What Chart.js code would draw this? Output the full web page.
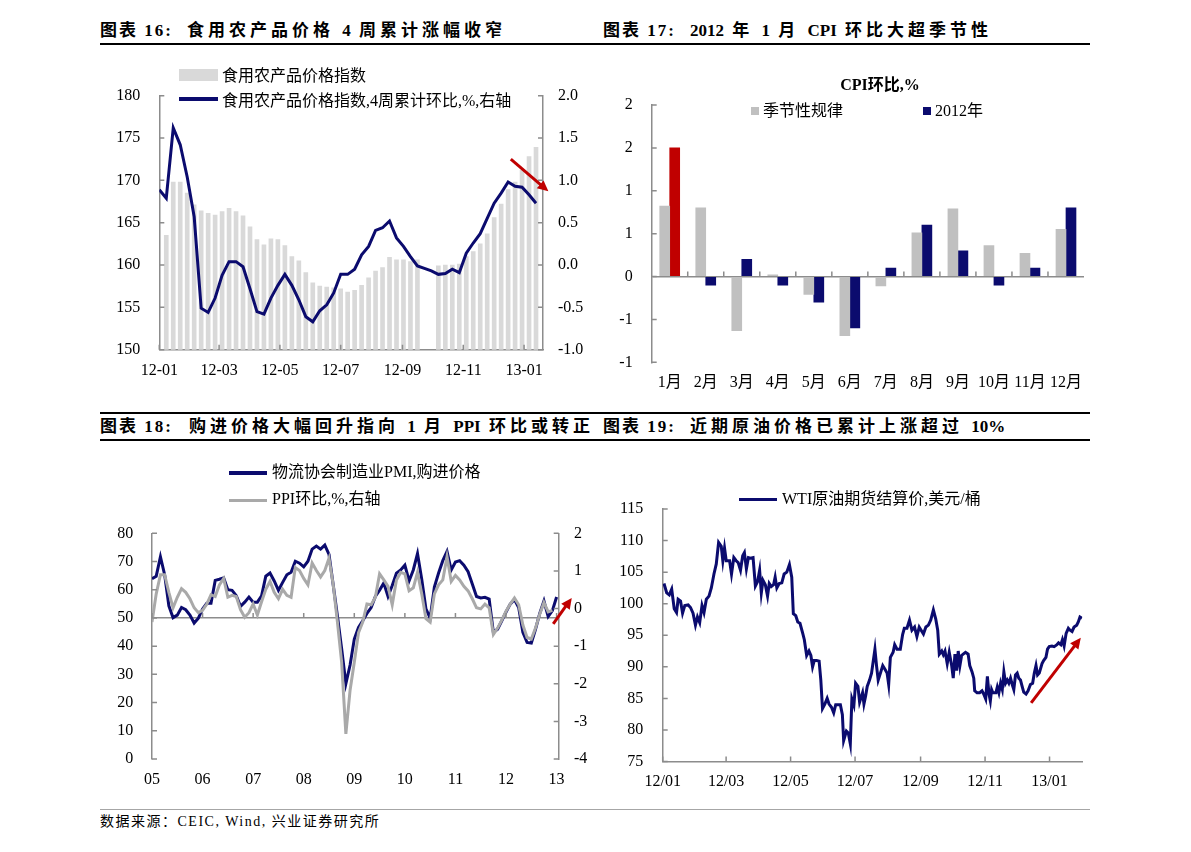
<!DOCTYPE html>
<html lang="zh-CN">
<head>
<meta charset="utf-8">
<title>图表 16-19</title>
<script src="https://cdn.jsdelivr.net/npm/chart.js@4.4.1/dist/chart.umd.min.js"></script>
<style>
  html, body { margin: 0; padding: 0; background: #fff; }
  body { position: relative; width: 1191px; height: 852px; overflow: hidden;
         font-family: "Liberation Serif", "Noto Sans CJK SC", serif; color: #000; }
  .head { position: absolute; font-size: 17px; font-weight: bold; line-height: 20px; white-space: pre; letter-spacing: 2px; }
  .head.t { letter-spacing: 4px; }
  .head .n { letter-spacing: 0; word-spacing: 4px; }
  .rule { position: absolute; left: 100px; width: 990px; height: 2px; background: #000; }
  .wrap { position: absolute; }
  .lg { position: absolute; font-size: 16px; line-height: 20px; white-space: nowrap; }
  .sw { position: absolute; }
</style>
</head>
<body>

<!-- headers -->
<div class="head" style="left:100px;top:20.5px">图表 16:</div>
<div class="head t" style="left:187px;top:20.5px">食用农产品价格<span class="n"> 4 </span>周累计涨幅收窄</div>
<div class="head" style="left:603px;top:20.5px">图表 17:</div>
<div class="head t" style="left:690px;top:20.5px"><span class="n">2012 </span>年<span class="n"> 1 </span>月<span class="n"> CPI </span>环比大超季节性</div>
<div class="rule" style="top:42.7px"></div>

<div class="rule" style="top:412px"></div>
<div class="head" style="left:100px;top:416.7px">图表 18:</div>
<div class="head t" style="left:189px;top:416.7px">购进价格大幅回升指向<span class="n"> 1 </span>月<span class="n"> PPI </span>环比或转正</div>
<div class="head" style="left:603px;top:416.7px">图表 19:</div>
<div class="head t" style="left:690px;top:416.7px">近期原油价格已累计上涨超过<span class="n"> 10%</span></div>
<div class="rule" style="top:439.3px"></div>

<!-- charts -->
<div class="wrap" style="left:90px;top:55px;width:510px;height:330px"><canvas id="c16"></canvas></div>
<div class="wrap" style="left:600px;top:55px;width:500px;height:340px"><canvas id="c17"></canvas></div>
<div class="wrap" style="left:90px;top:505px;width:500px;height:295px"><canvas id="c18"></canvas></div>
<div class="wrap" style="left:600px;top:480px;width:500px;height:320px"><canvas id="c19"></canvas></div>

<!-- legends -->
<div class="sw" style="left:179px;top:69px;width:39px;height:12px;background:#d9d9d9"></div>
<div class="lg" style="left:222px;top:66px">食用农产品价格指数</div>
<div class="sw" style="left:179px;top:97px;width:39px;height:3.5px;background:#0b0b6e"></div>
<div class="lg" style="left:222px;top:90.5px">食用农产品价格指数,4周累计环比,%,右轴</div>

<div class="lg" style="left:780px;top:75px;width:200px;text-align:center;font-weight:bold">CPI环比,%</div>
<div class="sw" style="left:751px;top:107px;width:8px;height:8px;background:#c0c0c0"></div>
<div class="lg" style="left:763px;top:101px">季节性规律</div>
<div class="sw" style="left:923px;top:107px;width:8px;height:8px;background:#0b0b6e"></div>
<div class="lg" style="left:935px;top:101px">2012年</div>

<div class="sw" style="left:229px;top:471px;width:38px;height:3.5px;background:#0b0b6e"></div>
<div class="lg" style="left:272px;top:462px">物流协会制造业PMI,购进价格</div>
<div class="sw" style="left:229px;top:498.5px;width:38px;height:3.5px;background:#a9a9a9"></div>
<div class="lg" style="left:272px;top:489px">PPI环比,%,右轴</div>

<div class="sw" style="left:739px;top:497.5px;width:38px;height:3.5px;background:#0b0b6e"></div>
<div class="lg" style="left:782px;top:489px">WTI原油期货结算价,美元/桶</div>

<!-- footer -->
<div class="sw" style="left:100px;top:808.5px;width:990px;height:1.5px;background:#a6a6a6"></div>
<div class="lg" style="left:100px;top:812px;font-size:14px;letter-spacing:1.5px">数据来源：CEIC, Wind, 兴业证券研究所</div>

<script>
// ---------- 图表16: weekly, x = days since 2012-01-01 ----------
const foodIndex = [null, 163.5, 169.8, 169.8, 168.5, 167.1, 166.4, 166.1, 165.9, 166.3,
  166.7, 166.3, 165.8, 164.5, 163.0, 162.4, 163.1, 163.0, 162.3, 161.0,
  160.5, 159.1, 157.9, 157.5, 157.4, 157.3, 157.2, 156.8, 157.0, 157.6,
  158.5, 159.3, 159.7, 160.9, 160.6, 160.6, 160.4, 160.6, null, null,
  159.9, 160.0, 160.0, 160.1, 161.0, 161.6, 162.5, 163.7, 165.6, 167.2,
  168.9, 169.8, 171.2, 172.8, 173.9];
const food4wChg = [0.89, 0.79, 1.62, 1.42, 1.04, 0.57, -0.51, -0.56, -0.39, -0.12,
  0.04, 0.04, -0.02, -0.28, -0.55, -0.58, -0.39, -0.24, -0.11, -0.24,
  -0.41, -0.61, -0.67, -0.54, -0.47, -0.33, -0.11, -0.11, -0.05, 0.12,
  0.22, 0.41, 0.44, 0.52, 0.32, 0.22, 0.10, -0.01, -0.04, -0.07,
  -0.11, -0.10, -0.05, -0.09, 0.14, 0.26, 0.37, 0.55, 0.73, 0.85,
  0.98, 0.93, 0.92, 0.83, 0.73];
const tickDays16 = [0, 60, 121, 182, 244, 305, 366];
const tickLbl16 = ['12-01', '12-03', '12-05', '12-07', '12-09', '12-11', '13-01'];
const arrow16 = [[352.7, 1.25], [390.4, 0.87]];

// ---------- 图表17 ----------
const months = ['1月', '2月', '3月', '4月', '5月', '6月', '7月', '8月', '9月', '10月', '11月', '12月'];
const seasonal = [0.82, 0.80, -0.63, 0.02, -0.21, -0.69, -0.11, 0.51, 0.79, 0.36, 0.27, 0.55];
const cpi2012 = [1.5, -0.1, 0.2, -0.1, -0.3, -0.6, 0.1, 0.6, 0.3, -0.1, 0.1, 0.8];

// ---------- 图表18: monthly from 2005-01 ----------
const pmiBuyPrice = [63.9, 64.8, 71.7, 65.3, 54.3, 50.1, 51.0, 53.7, 52.9, 51.0,
  48.2, 49.9, 53.2, 55.2, 55.2, 63.3, 63.7, 64.2, 60.0, 59.8,
  57.9, 54.1, 55.6, 57.4, 55.6, 55.6, 57.8, 64.8, 65.9, 63.1,
  59.8, 62.6, 65.3, 66.2, 70.1, 69.4, 68.1, 70.1, 74.4, 75.5,
  74.4, 75.8, 72.5, 61.7, 50.7, 39.1, 26.7, 33.3, 42.5, 46.6,
  49.0, 51.6, 53.7, 57.6, 59.8, 62.4, 57.6, 61.5, 65.9, 67.0,
  68.7, 63.1, 67.0, 72.8, 63.7, 53.2, 49.9, 60.9, 65.9, 70.3,
  73.6, 67.0, 69.8, 70.3, 68.7, 66.4, 62.0, 57.6, 57.1, 57.3,
  56.7, 44.9, 46.0, 49.0, 52.1, 54.9, 56.5, 53.7, 44.9, 41.3,
  41.1, 46.0, 51.6, 56.0, 50.5, 52.6, 57.4];
const ppiMoM = [-0.36, 0.39, 0.90, 0.90, 0.43, 0.02, 0.30, 0.53, 0.43, 0.26,
  0.02, -0.11, -0.05, 0.12, 0.37, 0.32, 0.63, 0.80, 0.30, 0.35,
  0.32, -0.03, -0.23, -0.11, 0.12, -0.17, 0.18, 0.51, 0.72, 0.43,
  0.26, 0.51, 0.35, 0.30, 1.09, 1.01, 0.80, 0.63, 1.21, 1.01,
  0.84, 1.01, 1.34, 0.63, -0.36, -1.43, -3.33, -2.17, -1.43, -0.64,
  -0.36, 0.12, 0.10, 0.30, 0.92, 0.76, 0.59, 0.10, 0.76, 0.96,
  0.92, 0.47, 0.55, 0.96, 0.39, -0.27, -0.36, 0.39, 0.63, 0.76,
  1.38, 0.72, 0.88, 0.76, 0.59, 0.47, 0.26, 0.02, -0.01, 0.12,
  0.02, -0.69, -0.52, -0.31, -0.07, 0.12, 0.28, 0.10, -0.44, -0.77,
  -0.81, -0.52, -0.15, 0.16, -0.09, -0.05];
const yearTicks = [0, 12, 24, 36, 48, 60, 72, 84, 96];
const yearLbl = ['05', '06', '07', '08', '09', '10', '11', '12', '13'];
const arrow18 = [[95.2, 47.9], [99.6, 57.1]];

// ---------- 图表19: daily, x = days since 2012-01-01 ----------
const wtiDay = [1.2, 3.8, 6.2, 8.5, 10.9, 13.1, 14.6, 16.9, 18.8, 20.9, 24.1, 26.3, 28.7, 31.0,
  32.9, 35.0, 37.2, 39.1, 41.3, 43.8, 46.0, 48.5, 50.7, 52.9, 55.4, 56.9, 58.5, 60.1,
  63.3, 65.1, 67.3, 69.5, 71.4, 73.6, 75.7, 77.3, 79.2, 81.1,
  83.0, 85.5, 87.7, 89.8, 91.7, 93.3, 94.9, 97.1, 99.2, 100.8,
  102.7, 104.9, 106.4, 108.0, 110.2, 112.7, 114.9, 117.4, 119.9, 122.1,
  123.6, 125.9, 127.8, 129.9, 132.5, 134.0, 136.2, 138.4, 140.2, 141.8,
  143.4, 145.6, 148.0, 149.6, 151.2, 153.4, 155.6, 157.4, 159.7, 161.8,
  163.7, 165.9, 168.1, 170.0, 171.2, 173.8, 175.6, 177.5, 179.0, 180.9,
  182.5, 184.7, 186.3,
  189.1, 190.4, 192.0, 193.5, 195.7, 197.6, 200.8, 202.3, 203.9, 206.0,
  208.2, 210.7, 212.3, 213.8, 215.4, 218.0, 219.5, 221.7, 224.8, 227.0,
  228.6, 231.1, 233.5, 235.8, 238.3, 240.5, 242.7, 244.5, 246.7, 249.0,
  251.4, 253.6, 256.1, 258.3, 260.2, 261.7, 264.0, 265.5, 267.1, 269.2,
  271.1, 273.4, 274.9, 276.5, 278.1, 279.6, 281.2, 282.8, 284.3, 286.5,
  289.0, 290.5, 292.7, 294.3, 295.2, 297.4, 299.9, 302.1, 303.7, 305.6,
  307.2, 308.7, 310.0, 311.2, 312.4,
  315.3, 316.6, 318.1, 319.7, 321.3, 322.8, 324.4, 326.0, 327.5, 329.1,
  330.7, 332.2, 333.8, 335.4, 336.9, 338.5, 340.4, 341.6, 343.8, 345.7,
  347.9, 350.0, 351.6, 353.2, 354.7, 356.3, 358.9, 360.4, 362.6, 364.1,
  365.7, 368.3, 370.4, 373.0, 374.5, 376.7, 378.2, 379.8, 381.7, 383.8,
  385.4, 387.3, 389.2, 391.7, 393.2, 394.8, 396.7];
const wtiPrice = [103.2, 101.7, 101.4, 102.3, 99.2, 98.6, 100.7, 100.4, 98.5, 99.7, 99.8, 99.4, 98.5, 96.6,
  97.9, 97.0, 99.7, 98.6, 100.7, 101.2, 102.5, 104.7, 106.3, 109.7, 109.1, 106.8, 108.8, 106.8,
  106.8, 104.7, 107.3, 106.8, 106.5, 105.3, 107.6, 108.1, 105.5, 107.3,
  107.2, 107.3, 102.8, 103.5, 105.3, 101.7, 103.7, 103.0, 101.2, 103.2,
  102.7, 103.0, 104.2, 102.5, 103.2, 103.3, 104.7, 105.0, 106.2, 104.2,
  98.4, 98.1, 97.1, 96.9, 95.3, 94.3, 91.8, 92.5, 91.8, 90.0,
  91.0, 91.0, 90.9, 87.9, 83.4, 84.1, 85.0, 84.1, 83.6, 82.7,
  84.0, 84.0, 84.0, 82.4, 78.3, 79.8, 79.5, 77.8, 84.9, 83.9,
  87.4, 86.9, 84.4,
  85.9, 84.1, 85.4, 86.9, 87.9, 89.0, 92.8, 90.2, 87.9, 89.0,
  90.2, 89.5, 89.0, 87.2, 91.5, 92.3, 93.5, 92.8, 92.8, 95.1,
  96.1, 96.1, 97.4, 95.8, 96.3, 94.8, 96.3, 95.8, 95.2, 96.3,
  96.6, 97.4, 99.0, 97.6, 95.8, 92.0, 92.5, 91.9, 92.5, 90.5,
  92.3, 90.2, 88.2, 92.0, 89.4, 92.5, 90.2, 91.8, 92.0, 92.3,
  92.0, 90.2, 89.2, 88.2, 86.2, 85.9, 85.9, 86.2, 85.7, 84.9,
  88.5, 85.7, 84.6, 86.4, 85.9,
  85.9, 86.8, 85.9, 87.4, 86.4, 89.2, 87.4, 87.9, 87.4, 88.2,
  87.2, 86.4, 88.7, 89.0, 88.2, 87.9, 86.7, 86.0, 85.7, 86.2,
  87.2, 87.4, 89.0, 90.2, 88.7, 89.0, 90.5, 91.0, 91.5, 92.8,
  93.2, 93.3, 93.2, 93.5, 93.8, 93.5, 94.3, 93.3, 95.3, 96.1,
  95.8, 95.6, 96.3, 96.6, 97.1, 97.9, 97.7];
const tickDays19 = [0, 60, 121, 182, 244, 305, 366];
const tickLbl19 = ['12/01', '12/03', '12/05', '12/07', '12/09', '12/11', '13/01'];
const arrow19 = [[348.6, 84.3], [395.6, 94.6]];

const NAVY = '#0b0b6e';
const GREY_LINE = '#a9a9a9';
const RED = '#c00000';
const AXIS = '#8c8c8c';
const CLEAR = 'rgba(0,0,0,0)';

Chart.defaults.font.family = '"Liberation Serif", "Noto Sans CJK SC", serif';
Chart.defaults.font.size = 16;
Chart.defaults.color = '#000';
Chart.defaults.animation = false;
Chart.defaults.responsive = true;
Chart.defaults.maintainAspectRatio = false;
Chart.defaults.plugins.legend.display = false;
Chart.defaults.plugins.tooltip.enabled = false;

const border = { display: true, color: AXIS, width: 1.5 };
const noGrid = { display: false, drawTicks: false };

// short tick marks pointing into the plot + the red trend arrow
function decor(marks, arrow) {
  return {
    id: 'decor',
    afterDatasetsDraw(chart) {
      const ctx = chart.ctx, area = chart.chartArea;
      ctx.save();
      ctx.strokeStyle = AXIS;
      ctx.lineWidth = 1.5;
      marks.forEach(m => {
        const s = chart.scales[m.scale];
        const vals = m.values || s.ticks.map(t => t.value);
        ctx.beginPath();
        vals.forEach(v => {
          const p = s.getPixelForValue(v);
          if (s.isHorizontal()) {
            const y0 = m.on ? chart.scales[m.on].getPixelForValue(m.at) : area.bottom;
            ctx.moveTo(p, y0); ctx.lineTo(p, y0 - 5);
          } else if (s.position === 'left') {
            ctx.moveTo(area.left, p); ctx.lineTo(area.left + 5, p);
          } else {
            ctx.moveTo(area.right, p); ctx.lineTo(area.right - 5, p);
          }
        });
        ctx.stroke();
      });
      if (arrow) {
        const xs = chart.scales[arrow.x], ys = chart.scales[arrow.y];
        const x0 = xs.getPixelForValue(arrow.pts[0][0]), y0 = ys.getPixelForValue(arrow.pts[0][1]);
        const x1 = xs.getPixelForValue(arrow.pts[1][0]), y1 = ys.getPixelForValue(arrow.pts[1][1]);
        const ang = Math.atan2(y1 - y0, x1 - x0), head = 12;
        ctx.strokeStyle = RED; ctx.fillStyle = RED; ctx.lineWidth = 3;
        ctx.beginPath();
        ctx.moveTo(x0, y0);
        ctx.lineTo(x1 - head * 0.8 * Math.cos(ang), y1 - head * 0.8 * Math.sin(ang));
        ctx.stroke();
        ctx.beginPath();
        ctx.moveTo(x1, y1);
        ctx.lineTo(x1 - head * Math.cos(ang - 0.45), y1 - head * Math.sin(ang - 0.45));
        ctx.lineTo(x1 - head * Math.cos(ang + 0.45), y1 - head * Math.sin(ang + 0.45));
        ctx.closePath();
        ctx.fill();
      }
      ctx.restore();
    }
  };
}

// 图表16
new Chart(document.getElementById('c16'), {
  type: 'bar',
  data: {
    datasets: [
      { type: 'line', label: '食用农产品价格指数,4周累计环比,%,右轴', yAxisID: 'yR', order: 0,
        data: food4wChg.map((v, i) => ({ x: i * 7, y: v })),
        borderColor: NAVY, borderWidth: 3, pointRadius: 0, tension: 0 },
      { type: 'bar', label: '食用农产品价格指数', yAxisID: 'yL', order: 1,
        data: foodIndex.map((v, i) => ({ x: i * 7, y: v })),
        backgroundColor: '#d9d9d9', barThickness: 4 }
    ]
  },
  options: {
    layout: { padding: { top: 40.7, left: 0, right: 0, bottom: 0 } },
    scales: {
      x: { type: 'linear', min: 0, max: 385, offset: false, grid: noGrid, border: border,
           afterBuildTicks: s => { s.ticks = tickDays16.map(v => ({ value: v })); },
           ticks: { autoSkip: false, maxRotation: 0, padding: 11, callback: (v, i) => tickLbl16[i] },
           afterFit: s => { s.height = 35.3; } },
      yL: { position: 'left', min: 150, max: 180, grid: noGrid, border: border,
            ticks: { stepSize: 5, padding: 19 },
            afterFit: s => { s.width = 69.3; } },
      yR: { position: 'right', min: -1, max: 2, grid: noGrid, border: border,
            ticks: { stepSize: 0.5, padding: 15, callback: v => v.toFixed(1) },
            afterFit: s => { s.width = 57; } }
    }
  },
  plugins: [decor([{ scale: 'yL' }, { scale: 'yR' }, { scale: 'x' }],
                  { x: 'x', y: 'yR', pts: arrow16 })]
});

// 图表17
new Chart(document.getElementById('c17'), {
  type: 'bar',
  data: {
    labels: months,
    datasets: [
      { label: '季节性规律', data: seasonal, backgroundColor: '#c0c0c0', barThickness: 10 },
      { label: '2012年', data: cpi2012, barThickness: 10,
        backgroundColor: cpi2012.map((v, i) => i === 0 ? RED : NAVY) }
    ]
  },
  options: {
    layout: { padding: { top: 50, right: 16, left: 0, bottom: 0 } },
    scales: {
      x: { grid: noGrid, border: { display: false },
           ticks: { padding: 11, autoSkip: false, maxRotation: 0 },
           afterFit: s => { s.height = 32.7; } },
      y: { min: -1, max: 2, border: border,
           grid: { drawTicks: false, lineWidth: 1.5,
                   color: c => (c.tick && c.tick.value === 0) ? AXIS : CLEAR },
           ticks: { stepSize: 0.5, padding: 19,
                    callback: v => Math.sign(v) * Math.round(Math.abs(v)) },
           afterFit: s => { s.width = 51.7; } }
    }
  },
  plugins: [decor([{ scale: 'y' },
                   { scale: 'x', on: 'y', at: 0, values: [0.5, 1.5, 2.5, 3.5, 4.5, 5.5, 6.5, 7.5, 8.5, 9.5, 10.5] }],
                  null)]
});

// 图表18
new Chart(document.getElementById('c18'), {
  type: 'line',
  data: {
    datasets: [
      { label: 'PPI环比,%,右轴', yAxisID: 'yR', order: 0,
        data: ppiMoM.map((v, i) => ({ x: i, y: v })),
        borderColor: GREY_LINE, borderWidth: 3, pointRadius: 0, tension: 0 },
      { label: '物流协会制造业PMI,购进价格', yAxisID: 'yL', order: 1,
        data: pmiBuyPrice.map((v, i) => ({ x: i, y: v })),
        borderColor: NAVY, borderWidth: 3, pointRadius: 0, tension: 0 }
    ]
  },
  options: {
    layout: { padding: { top: 12.3, left: 0, right: 0, bottom: 0 } },
    scales: {
      x: { type: 'linear', min: 0, max: 96.5, grid: noGrid, border: { display: false },
           afterBuildTicks: s => { s.ticks = yearTicks.map(v => ({ value: v })); },
           ticks: { autoSkip: false, maxRotation: 0, padding: 11, callback: (v, i) => yearLbl[i] },
           afterFit: s => { s.height = 41; } },
      yL: { position: 'left', min: 0, max: 80, border: border,
            grid: { drawTicks: false, lineWidth: 1.5,
                    color: c => (c.tick && c.tick.value === 50) ? AXIS : CLEAR },
            ticks: { stepSize: 10, padding: 18.7 },
            afterFit: s => { s.width = 62; } },
      yR: { position: 'right', min: -4, max: 2, grid: noGrid, border: border,
            ticks: { stepSize: 1, padding: 15.3 },
            afterFit: s => { s.width = 31.3; } }
    }
  },
  plugins: [decor([{ scale: 'yL' }, { scale: 'yR' }, { scale: 'x', on: 'yL', at: 50 }],
                  { x: 'x', y: 'yL', pts: arrow18 })]
});

// 图表19
new Chart(document.getElementById('c19'), {
  type: 'line',
  data: {
    datasets: [
      { label: 'WTI原油期货结算价,美元/桶',
        data: wtiDay.map((d, i) => ({ x: d, y: wtiPrice[i] })),
        borderColor: NAVY, borderWidth: 3, pointRadius: 0, tension: 0 }
    ]
  },
  options: {
    layout: { padding: { top: 19.5, right: 17.7, left: 0, bottom: 0 } },
    scales: {
      x: { type: 'linear', min: 0, max: 397, grid: noGrid, border: border,
           afterBuildTicks: s => { s.ticks = tickDays19.map(v => ({ value: v })); },
           ticks: { autoSkip: false, maxRotation: 0, padding: 11, callback: (v, i) => tickLbl19[i] },
           afterFit: s => { s.height = 38.5; } },
      y: { min: 75, max: 115, grid: noGrid, border: border,
           ticks: { stepSize: 5, padding: 19.4 },
           afterFit: s => { s.width = 62.7; } }
    }
  },
  plugins: [decor([{ scale: 'y' }, { scale: 'x' }],
                  { x: 'x', y: 'y', pts: arrow19 })]
});
</script>
</body>
</html>
